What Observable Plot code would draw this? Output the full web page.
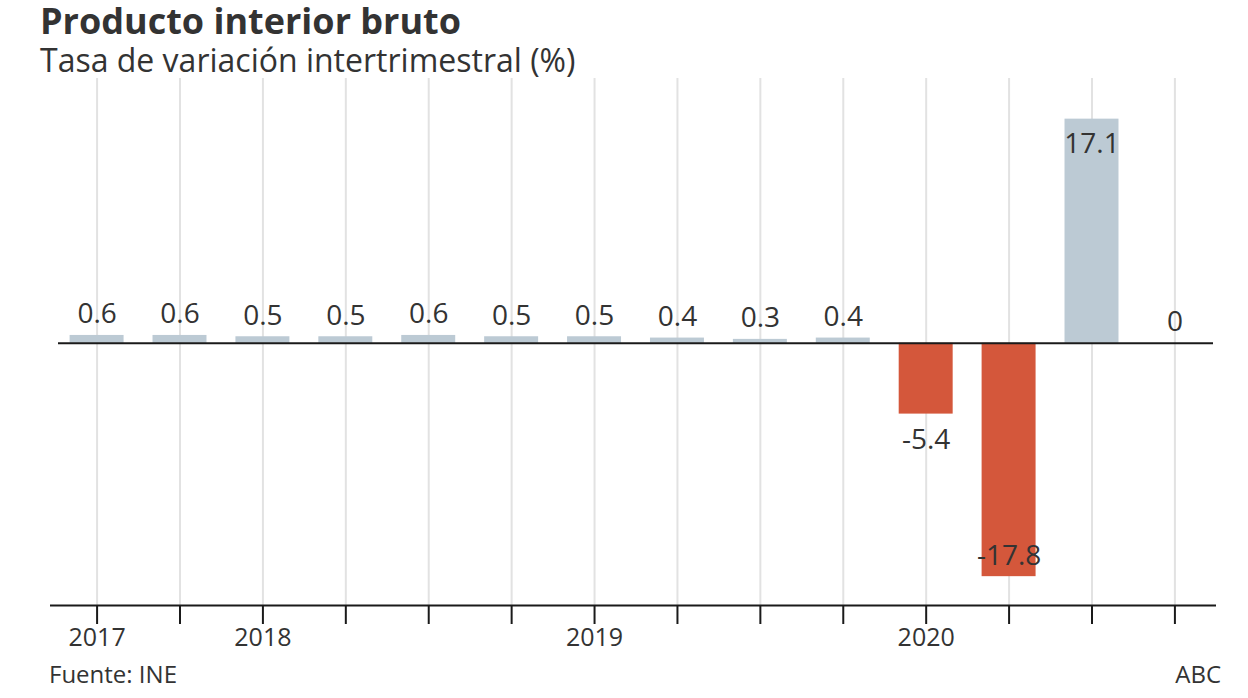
<!DOCTYPE html>
<html><head><meta charset="utf-8">
<script src="https://cdn.jsdelivr.net/npm/d3@7"></script>
<script src="https://cdn.jsdelivr.net/npm/@observablehq/plot@0.6"></script>
<style>
html,body{margin:0;padding:0;background:#fff}
body{position:relative;width:1248px;height:698px;overflow:hidden;font-family:"Open Sans",sans-serif;color:#333}
#head{position:relative;height:78px}
#title{position:absolute;left:40px;top:3px;font-size:36px;font-weight:700;line-height:1;white-space:nowrap}
#subtitle{position:absolute;left:40px;top:44px;font-size:32px;font-weight:400;line-height:1;white-space:nowrap}
#chart{height:600px}
#chart svg{display:block}
#foot{position:absolute;left:0;top:648px;width:1248px;height:50px}
#source{position:absolute;left:49px;top:14px;font-size:24px;line-height:1}
#brand{position:absolute;right:27px;top:14px;font-size:24px;line-height:1}
</style>
</head><body>
<div id="head"><div id="title">Producto interior bruto</div><div id="subtitle">Tasa de variación intertrimestral (%)</div></div>
<div id="chart"></div>
<div id="foot"><div id="source">Fuente: INE</div><div id="brand">ABC</div></div>
<script>
const quarters = ["2017-T3","2017-T4","2018-T1","2018-T2","2018-T3","2018-T4","2019-T1","2019-T2","2019-T3","2019-T4","2020-T1","2020-T2","2020-T3","2020-T4"];
const values = [0.6, 0.6, 0.5, 0.5, 0.6, 0.5, 0.5, 0.4, 0.3, 0.4, -5.4, -17.8, 17.1, 0];
const yearLabels = ["2017","","2018","","","","2019","","","","2020","","",""];

const data = quarters.map((q, i) => ({q, v: values[i], label: String(values[i])}));
const big = d => Math.abs(d.v) >= 10;

const chart = Plot.plot({
  width: 1248,
  height: 600,
  marginTop: 0,
  marginBottom: 73,
  marginLeft: 58,
  marginRight: 35,
  style: {fontFamily: "'Open Sans', sans-serif", color: "#333", background: "#fff", overflow: "visible"},
  x: {domain: quarters, paddingInner: 0.349, paddingOuter: 0.14, round: false, axis: null, label: null},
  y: {domain: [-20, 20.2], axis: null, label: null},
  marks: [
    Plot.ruleX(quarters, {x: d => d, y1: -20, y2: 20.2, stroke: "#e2e2e2", strokeWidth: 2}),
    Plot.barY(data, {x: "q", y: "v", fill: d => d.v < 0 ? "#d4573b" : "#bccad4"}),
    Plot.ruleY([0], {stroke: "#1a1a1a", strokeWidth: 2}),
    Plot.ruleY([-20], {stroke: "#1a1a1a", strokeWidth: 2, insetLeft: -8, insetRight: -3}),
    Plot.axisX({tickSize: 19, tickPadding: 4, fontSize: 25, stroke: "#1a1a1a", strokeWidth: 2, fill: "#333", label: null,
      tickFormat: (d) => yearLabels[quarters.indexOf(d)]}),
    Plot.text(data.filter(d => !big(d) && d.v >= 0), {x: "q", y: "v", text: "label", dy: -21, fontSize: 28, fill: "#333"}),
    Plot.text(data.filter(d => !big(d) && d.v < 0), {x: "q", y: "v", text: "label", dy: 26, fontSize: 28, fill: "#333"}),
    Plot.text(data.filter(d => big(d) && d.v >= 0), {x: "q", y: "v", text: "label", dy: 25, fontSize: 28, fill: "#333"}),
    Plot.text(data.filter(d => big(d) && d.v < 0), {x: "q", y: "v", text: "label", dy: -21, fontSize: 28, fill: "#333"})
  ]
});
document.getElementById("chart").appendChild(chart);
</script>
</body></html>
